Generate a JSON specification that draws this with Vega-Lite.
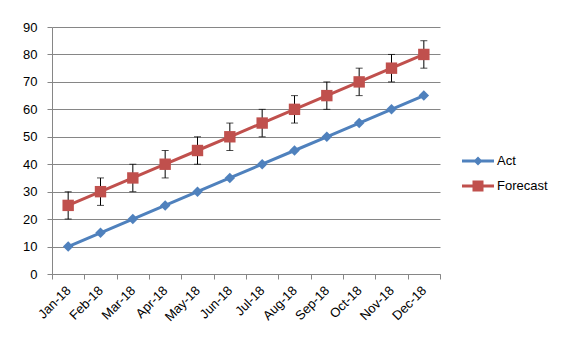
{
  "$schema": "https://vega.github.io/schema/vega-lite/v6.json",
  "autosize": {"type": "none"},
  "padding": {"left": 52, "top": 27, "right": 137, "bottom": 79},
  "width": 388,
  "height": 247,
  "background": "white",
  "config": {
    "view": {"stroke": null},
    "font": "Liberation Sans",
    "axis": {"labelFont": "Liberation Sans", "labelFontSize": 13, "labelColor": "#000000", "domainColor": "#868686", "tickColor": "#868686", "gridColor": "#868686", "title": null}
  },
  "data": {"values": [
    {"month": "Jan-18", "series": "Act", "value": 10, "err": 5},
    {"month": "Feb-18", "series": "Act", "value": 15, "err": 5},
    {"month": "Mar-18", "series": "Act", "value": 20, "err": 5},
    {"month": "Apr-18", "series": "Act", "value": 25, "err": 5},
    {"month": "May-18", "series": "Act", "value": 30, "err": 5},
    {"month": "Jun-18", "series": "Act", "value": 35, "err": 5},
    {"month": "Jul-18", "series": "Act", "value": 40, "err": 5},
    {"month": "Aug-18", "series": "Act", "value": 45, "err": 5},
    {"month": "Sep-18", "series": "Act", "value": 50, "err": 5},
    {"month": "Oct-18", "series": "Act", "value": 55, "err": 5},
    {"month": "Nov-18", "series": "Act", "value": 60, "err": 5},
    {"month": "Dec-18", "series": "Act", "value": 65, "err": 5},
    {"month": "Jan-18", "series": "Forecast", "value": 25, "err": 5},
    {"month": "Feb-18", "series": "Forecast", "value": 30, "err": 5},
    {"month": "Mar-18", "series": "Forecast", "value": 35, "err": 5},
    {"month": "Apr-18", "series": "Forecast", "value": 40, "err": 5},
    {"month": "May-18", "series": "Forecast", "value": 45, "err": 5},
    {"month": "Jun-18", "series": "Forecast", "value": 50, "err": 5},
    {"month": "Jul-18", "series": "Forecast", "value": 55, "err": 5},
    {"month": "Aug-18", "series": "Forecast", "value": 60, "err": 5},
    {"month": "Sep-18", "series": "Forecast", "value": 65, "err": 5},
    {"month": "Oct-18", "series": "Forecast", "value": 70, "err": 5},
    {"month": "Nov-18", "series": "Forecast", "value": 75, "err": 5},
    {"month": "Dec-18", "series": "Forecast", "value": 80, "err": 5}
  ]},
  "encoding": {
    "x": {"field": "month", "type": "ordinal", "sort": null, "title": null, "scale": {"type": "band", "paddingInner": 0, "paddingOuter": 0},
      "axis": {"title": null, "tickBand": "extent", "labelAngle": -45, "labelAlign": "right", "labelBaseline": "middle", "labelPadding": 9, "tickSize": 5, "grid": false}},
    "y": {"field": "value", "type": "quantitative", "title": null, "scale": {"domain": [0, 90]}, "axis": {"title": null, "values": [0,10,20,30,40,50,60,70,80,90], "tickSize": 5, "labelPadding": 10, "grid": true}}
  },
  "layer": [
    {
      "transform": [{"filter": "datum.series === 'Forecast'"}],
      "mark": {"type": "errorbar", "ticks": {"size": 7, "color": "black", "thickness": 1}, "rule": {"color": "black", "strokeWidth": 1}},
      "encoding": {
        "yError": {"field": "err"}
      }
    },
    {
      "mark": {"type": "line", "strokeWidth": 3},
      "encoding": {
        "color": {"field": "series", "type": "nominal", "scale": {"domain": ["Act", "Forecast"], "range": ["#4F81BD", "#C0504D"]}, "legend": {
          "title": null, "orient": "none", "legendX": 416, "legendY": 124, "padding": 0,
          "symbolSize": 400, "rowPadding": 8, "labelOffset": 9, "labelFontSize": 13, "labelFont": "Liberation Sans", "labelColor": "#000000",
          "encode": {"symbols": {"update": {
            "shape": {"signal": "datum.value === 'Act' ? 'M-1.6,-0.15H1.6V0.15H-1.6Z M0,-0.45L0.45,0L0,0.45L-0.45,0Z' : 'M-1.6,-0.15H1.6V0.15H-1.6Z M-0.55,-0.55H0.55V0.55H-0.55Z'"},
            "fill": {"signal": "scale('color', datum.value)"},
            "stroke": {"value": "transparent"},
            "strokeWidth": {"value": 0},
            "opacity": {"value": 1}
          }}}
        }}
      }
    },
    {
      "transform": [{"filter": "datum.series === 'Act'"}],
      "mark": {"type": "point", "shape": "diamond", "size": 110, "filled": true, "opacity": 1, "strokeWidth": 0, "color": "#4F81BD"}
    },
    {
      "transform": [{"filter": "datum.series === 'Forecast'"}],
      "mark": {"type": "point", "shape": "square", "size": 130, "filled": true, "opacity": 1, "strokeWidth": 0, "color": "#C0504D"}
    }
  ]
}
